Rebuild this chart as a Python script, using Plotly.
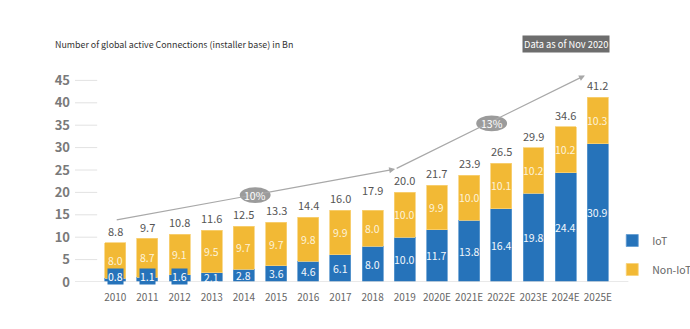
import plotly.graph_objects as go

# Global active connections (installed base), billions
years = ["2010", "2011", "2012", "2013", "2014", "2015", "2016", "2017", "2018",
         "2019", "2020E", "2021E", "2022E", "2023E", "2024E", "2025E"]
iot = [0.8, 1.1, 1.6, 2.1, 2.8, 3.6, 4.6, 6.1, 8.0, 10.0, 11.7, 13.8, 16.4, 19.8, 24.4, 30.9]
non_iot = [8.0, 8.7, 9.1, 9.5, 9.7, 9.7, 9.8, 9.9, 8.0, 10.0, 9.9, 10.0, 10.1, 10.2, 10.2, 10.3]
totals = [8.8, 9.7, 10.8, 11.6, 12.5, 13.3, 14.4, 16.0, 17.9, 20.0, 21.7, 23.9, 26.5, 29.9, 34.6, 41.2]
y_ticks = [0, 5, 10, 15, 20, 25, 30, 35, 40, 45]

# Growth-rate callouts: (label, category position, value level)
cagr_labels = ["10%", "13%"]
cagr_pos = [4.35, 11.7]
cagr_level = [19.4, 35.4]
# Trend arrow vertices (category position, value level)
trend_x = [0.0, 8.7, 14.6]
trend_y = [13.8, 25.2, 46.1]

BLUE = "#2673BA"
YELLOW = "#F2B935"
FONT = "Noto Sans CJK SC"

fig = go.Figure()
fig.add_trace(go.Bar(x=years, y=iot, name="IoT", marker=dict(color=BLUE, line=dict(color="#5f9ad0", width=0.8)),
                     legendgroup="a", hoverinfo="x+y"))
fig.add_trace(go.Bar(x=years, y=non_iot, name="Non-IoT", marker=dict(color=YELLOW, line=dict(color="#f7d27a", width=0.8)),
                     legendgroup="b", hoverinfo="x+y"))

ann = []
for i in range(len(years)):
    # IoT segment label (thin segments get a badge so the text stays readable)
    if iot[i] < 2:
        ann.append(dict(x=i, y=0, yanchor="bottom", yshift=-3, text=f"{iot[i]:.1f}", showarrow=False,
                        font=dict(color="white", size=10.5, family=FONT), bgcolor=BLUE, borderpad=0))
    else:
        ann.append(dict(x=i, y=iot[i] / 2, text=f"{iot[i]:.1f}", showarrow=False,
                        font=dict(color="#f4f8fc", size=10.5, family=FONT)))
    # Non-IoT segment label
    ann.append(dict(x=i, y=iot[i] + non_iot[i] / 2, text=f"{non_iot[i]:.1f}", showarrow=False,
                    font=dict(color="#fdf3da", size=10.5, family=FONT)))
    # total above bar
    ann.append(dict(x=i, y=totals[i], yanchor="bottom", yshift=2, text=f"{totals[i]:.1f}", showarrow=False,
                    font=dict(color="#555555", size=11, family=FONT)))

# trend arrows
for k in range(len(trend_x) - 1):
    ann.append(dict(x=trend_x[k + 1], y=trend_y[k + 1], ax=trend_x[k], ay=trend_y[k],
                    xref="x", yref="y", axref="x", ayref="y", text="", showarrow=True,
                    arrowhead=2, arrowsize=1, arrowwidth=1.2, arrowcolor="#a8a8a8"))

shapes = []
for lbl, cx, cy in zip(cagr_labels, cagr_pos, cagr_level):
    shapes.append(dict(type="circle", xref="x", yref="y", x0=cx - 0.48, x1=cx + 0.48,
                       y0=cy - 1.75, y1=cy + 1.75, fillcolor="#9b9b9b", line=dict(width=0)))
    ann.append(dict(x=cx, y=cy, text=lbl, showarrow=False, font=dict(color="white", size=10.5, family=FONT)))

# short grid stubs next to the value axis
for t in y_ticks[1:]:
    shapes.append(dict(type="line", xref="x", yref="y", x0=-1.25, x1=-0.56, y0=t, y1=t,
                       line=dict(color="#e2e2e2", width=1)))
# baseline
shapes.append(dict(type="line", xref="x", yref="y", x0=-1.25, x1=15.95, y0=0, y1=0,
                   line=dict(color="#e2e2e2", width=1.5)))

# heading and data stamp
ann.append(dict(xref="paper", yref="paper", x=-0.04, y=1.06, xanchor="left", yanchor="middle",
                text="Number of global active Connections (installer base) in Bn", showarrow=False,
                font=dict(color="#333333", size=8.9, family=FONT)))
ann.append(dict(xref="paper", yref="paper", x=0.884, y=1.063, xanchor="center", yanchor="middle",
                text="Data as of Nov 2020", showarrow=False, bgcolor="#6d6d6d", borderpad=1,
                font=dict(color="white", size=9.3, family=FONT)))

fig.update_layout(
    width=690, height=329,
    margin=dict(l=75, r=60, t=58, b=47, autoexpand=False),
    paper_bgcolor="white", plot_bgcolor="white",
    barmode="stack", bargap=0.35,
    font=dict(family=FONT),
    xaxis=dict(type="category", range=[-1.25, 16.0], showgrid=False, zeroline=False, showline=False,
               tickangle=0, tickfont=dict(color="#666666", size=10, family=FONT), ticks="",
               ticklabelstandoff=8),
    yaxis=dict(range=[0, 50], tickvals=y_ticks, showgrid=False, zeroline=False, showline=False,
               tickfont=dict(color="#7a7a7a", size=13, family=FONT, weight="bold"), ticks="",
               ticklabelstandoff=4),
    legend=dict(x=0.968, y=0.25, xanchor="left", yanchor="top", traceorder="grouped",
                itemwidth=30, tracegroupgap=10, font=dict(color="#666666", size=10.5, family=FONT),
                bgcolor="rgba(0,0,0,0)"),
    annotations=ann, shapes=shapes,
)

fig.write_html("out.html")
